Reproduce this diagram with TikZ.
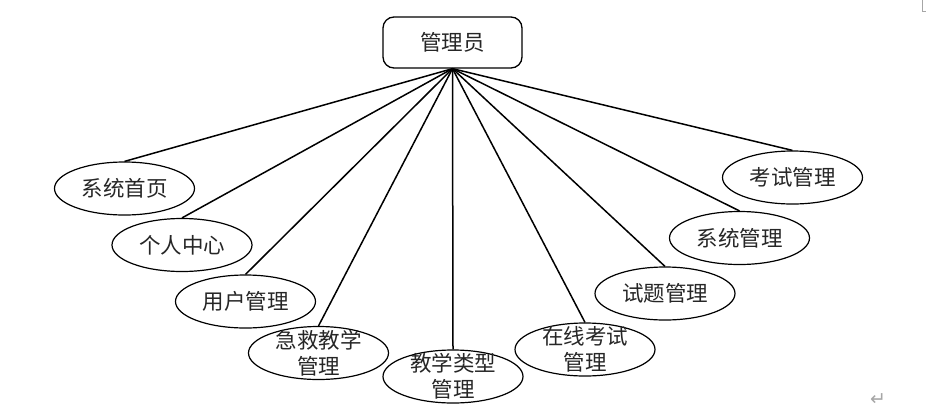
\documentclass[tikz,border=0pt]{standalone}
\usepackage{fontspec}
\newfontfamily\cjk{Noto Sans CJK SC}
\newfontfamily\dejavu{DejaVu Sans}
\usetikzlibrary{shapes.geometric}
\begin{document}
\begin{tikzpicture}[x=1pt,y=-1pt,
  rootbox/.style={draw,line width=1.3pt,rounded corners=11pt,minimum width=139pt,minimum height=51pt,inner sep=0pt},
  oval/.style={draw,line width=1.2pt,ellipse,minimum width=140pt,minimum height=53pt,inner sep=0pt},
  lbl/.style={font=\cjk\fontsize{21.5pt}{26pt}\selectfont,text=black!85,align=center,inner sep=0pt},
  link/.style={line width=1.5pt},
  pagemark/.style={draw=gray!70,line width=0.9pt}]
\useasboundingbox (0,0) rectangle (926,413);
\node[rootbox] (root) at (452.5,42.5) {};
\node[lbl] (troot) at (452.5,42.5) {管理员};
% ellipses
\node[oval] (e1) at (124.5,188.5) {};
\node[oval] (e2) at (182,245) {};
\node[oval] (e3) at (245.5,301.5) {};
\node[oval] (e4) at (318.5,353) {};
\node[oval] (e5) at (453,376.5) {};
\node[oval] (e6) at (585,349.5) {};
\node[oval] (e7) at (665,293.5) {};
\node[oval] (e8) at (739.5,238) {};
\node[oval] (e9) at (792.5,177.5) {};
% labels
\node[lbl] (t1) at (e1) {系统首页};
\node[lbl] (t2) at (e2) {个人中心};
\node[lbl] (t3) at (e3) {用户管理};
\node[lbl] (t4) at (e4) {急救教学\\管理};
\node[lbl] (t5) at (e5) {教学类型\\管理};
\node[lbl] (t6) at (e6) {在线考试\\管理};
\node[lbl] (t7) at (e7) {试题管理};
\node[lbl] (t8) at (e8) {系统管理};
\node[lbl] (t9) at (e9) {考试管理};
% connectors
\foreach \i in {1,...,9}{\draw[link] (root.south) -- (e\i.north);}
% page marks
\coordinate (m1) at (922.5,0);
\coordinate (m2) at (922.5,11);
\coordinate (m3) at (926,11);
\draw[pagemark] (m1) -- (m2) -- (m3);
\node[font=\dejavu\fontsize{19pt}{19pt}\selectfont,text=gray!70,inner sep=0pt] (ret) at (878,400) {↵};
\end{tikzpicture}
\end{document}
